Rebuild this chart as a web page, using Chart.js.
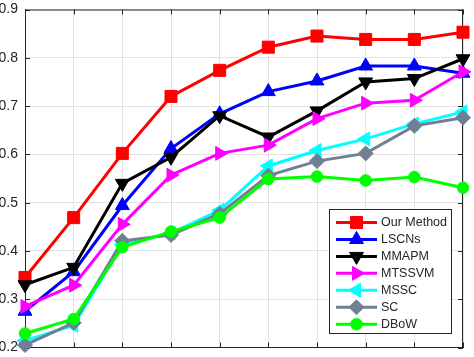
<!DOCTYPE html>
<html><head><meta charset="utf-8">
<script src="https://cdn.jsdelivr.net/npm/chart.js@4"></script>
<style>html,body{margin:0;padding:0;background:#fff;overflow:hidden}canvas{display:block}</style>
</head><body>
<canvas id="c" width="474" height="357"></canvas>
<script>
const categories = ['1','2','3','4','5','6','7','8','9','10'];
const yMin = 0.2, yMax = 0.9, yStep = 0.1;
const seriesNames = ['Our Method','LSCNs','MMAPM','MTSSVM','MSSC','SC','DBoW'];
const ourMethod = [0.345,0.469,0.602,0.720,0.774,0.822,0.845,0.838,0.838,0.853];
const lscns     = [0.275,0.357,0.494,0.612,0.684,0.730,0.752,0.783,0.783,0.768];
const mmapm     = [0.330,0.366,0.540,0.594,0.680,0.636,0.690,0.750,0.757,0.798];
const mtssvm    = [0.285,0.329,0.455,0.557,0.602,0.619,0.674,0.706,0.712,0.771];
const mssc      = [0.214,0.246,0.413,0.437,0.484,0.576,0.608,0.632,0.663,0.688];
const sc        = [0.205,0.251,0.421,0.433,0.477,0.556,0.586,0.602,0.659,0.676];
const dbow      = [0.229,0.259,0.408,0.440,0.469,0.549,0.554,0.546,0.553,0.531];

const seriesValues = [ourMethod, lscns, mmapm, mtssvm, mssc, sc, dbow];
const colors = ['#ff0000','#0000ff','#000000','#ff00ff','#00ffff','#6f7f95','#00ff00'];
const styles = ['rect','triangle','triangle','triangle','triangle','rectRot','circle'];
const rotations = [0,0,180,90,270,0,0];
const radii = [8.5,8,8,8,8,7.5,5.8];

const datasets = seriesNames.map((name,i)=>({
  label: name,
  data: seriesValues[i],
  borderColor: colors[i],
  backgroundColor: colors[i],
  borderWidth: 3,
  pointStyle: styles[i],
  pointRotation: rotations[i],
  pointRadius: radii[i],
  pointHoverRadius: radii[i],
  pointBackgroundColor: colors[i],
  pointBorderColor: colors[i],
  pointBorderWidth: 1,
  tension: 0,
  clip: false,
  order: seriesNames.length - 1 - i
}));

const AX = '#262626';

const framePlugin = {
  id: 'frame',
  beforeDatasetsDraw(chart){
    const {ctx, chartArea:a, scales} = chart;
    ctx.save();
    ctx.strokeStyle = AX; ctx.lineWidth = 1;
    ctx.beginPath();
    ctx.moveTo(a.left, a.top+0.5); ctx.lineTo(a.right, a.top+0.5);
    ctx.moveTo(a.right-0.5, a.top); ctx.lineTo(a.right-0.5, a.bottom);
    const ys = scales.y, xs = scales.x;
    ys.ticks.forEach((t,i)=>{
      const y = Math.round(ys.getPixelForTick(i))+0.5;
      ctx.moveTo(a.left, y); ctx.lineTo(a.left+5, y);
      ctx.moveTo(a.right, y); ctx.lineTo(a.right-5, y);
    });
    xs.ticks.forEach((t,i)=>{
      const x = Math.round(xs.getPixelForTick(i))+0.5;
      ctx.moveTo(x, a.bottom); ctx.lineTo(x, a.bottom-5);
      ctx.moveTo(x, a.top); ctx.lineTo(x, a.top+5);
    });
    ctx.stroke();
    ctx.restore();
  }
};

const legendPlugin = {
  id: 'boxLegend',
  afterDraw(chart){
    const {ctx, chartArea:a} = chart;
    const left = a.right - 134.5, right = a.right - 12.5;
    const top = a.bottom - 138.5, bottom = a.bottom - 14.5;
    ctx.save();
    ctx.fillStyle = '#fff';
    ctx.fillRect(left, top, right-left, bottom-top);
    ctx.strokeStyle = AX; ctx.lineWidth = 1;
    ctx.strokeRect(Math.round(left)+0.5, Math.round(top)+0.5, Math.round(right-left), Math.round(bottom-top));
    chart.data.datasets.forEach((ds,i)=>{
      const y = top + 13.5 + i*16.95;
      ctx.strokeStyle = ds.borderColor; ctx.lineWidth = 3;
      ctx.beginPath(); ctx.moveTo(left+7.5, y); ctx.lineTo(left+48.5, y); ctx.stroke();
      ctx.fillStyle = ds.pointBackgroundColor; ctx.strokeStyle = ds.pointBorderColor;
      ctx.lineWidth = 1;
      Chart.helpers.drawPoint(ctx, {pointStyle: ds.pointStyle, rotation: ds.pointRotation, radius: ds.pointRadius, borderWidth: 1}, left+28, y);
      ctx.fillStyle = AX;
      ctx.font = '12.5px "Liberation Sans", Arial, sans-serif';
      ctx.textBaseline = 'middle'; ctx.textAlign = 'left';
      ctx.fillText(ds.label, left+52.5, y+0.5);
    });
    ctx.restore();
  }
};

new Chart(document.getElementById('c'), {
  type: 'line',
  data: { labels: categories, datasets },
  options: {
    responsive: false,
    devicePixelRatio: 1,
    animation: false,
    events: [],
    layout: { padding: { left: 0, right: 11, top: 5, bottom: 0 } },
    plugins: { legend: { display: false }, tooltip: { enabled: false } },
    scales: {
      x: {
        type: 'category',
        offset: false,
        grid: { color: '#e2e2e2', lineWidth: 1, drawTicks: false },
        border: { color: AX, width: 1 },
        ticks: { display: false },
        afterFit(s){ s.height = 7; s.paddingLeft = 0; s.paddingRight = 0; }
      },
      y: {
        min: yMin, max: yMax,
        grid: { color: '#e2e2e2', lineWidth: 1, drawTicks: false },
        border: { color: AX, width: 1 },
        ticks: {
          stepSize: yStep,
          padding: 7,
          color: AX,
          font: { family: '"Liberation Sans", Arial, sans-serif', size: 14 },
          callback: v => Number(v).toFixed(1)
        },
        afterFit(s){ s.width = 25; s.paddingTop = 0; s.paddingBottom = 0; }
      }
    }
  },
  plugins: [framePlugin, legendPlugin]
});
</script>
</body></html>
